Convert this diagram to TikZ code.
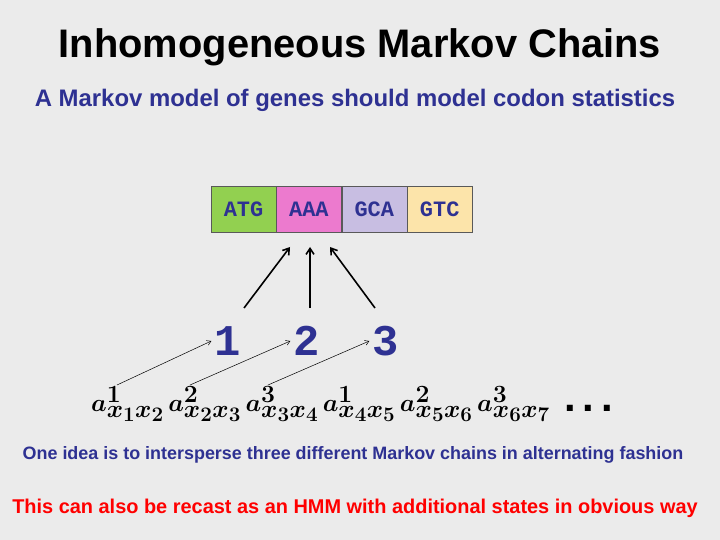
\documentclass[tikz,border=0pt]{standalone}
\usepackage{amsmath,bm}
\usepackage{fontspec}
\setmainfont{Liberation Sans}
\newfontfamily\mono{Liberation Mono}
\usetikzlibrary{arrows.meta}
\definecolor{navy}{RGB}{46,49,146}
\definecolor{bg}{RGB}{235,235,235}
\tikzset{codon/.style={draw=gray!70!black,minimum width=65bp,minimum height=46bp,inner sep=0,font=\mono\bfseries\fontsize{22}{22}\selectfont,text=navy},
num/.style={font=\mono\bfseries\fontsize{44}{44}\selectfont,text=navy},
big/.style={-{Straight Barb[length=6pt,width=8pt]},line width=1.6pt},
thin/.style={-{Straight Barb[length=4pt,width=5pt]},line width=0.5pt}}
\begin{document}
\begin{tikzpicture}[x=1bp,y=-1bp]
\fill[bg] (0,0) rectangle (720,540);
\node (title) at (360,47) {\bfseries\fontsize{40}{40}\selectfont Inhomogeneous Markov Chains};
\node[text=navy] (sub) at (355,100) {\bfseries\fontsize{24}{24}\selectfont A Markov model of genes should model codon statistics};
\node[codon,fill={rgb,255:red,146;green,208;blue,80}] (c1) at (243.5,209) {ATG};
\node[codon,fill={rgb,255:red,236;green,122;blue,206},anchor=west] (c2) at (c1.east) {AAA};
\node[codon,fill={rgb,255:red,200;green,190;blue,226},anchor=west] (c3) at (c2.east) {GCA};
\node[codon,fill={rgb,255:red,252;green,228;blue,170},anchor=west] (c4) at (c3.east) {GTC};
\node[num] (n1) at (228,341) {1};
\node[num] (n2) at (307,341) {2};
\node[num] (n3) at (386,341) {3};
\coordinate (s1) at (244,308); \coordinate (e1) at (290,247);
\coordinate (s2) at (310,308); \coordinate (e2) at (310,247);
\coordinate (s3) at (375,308); \coordinate (e3) at (330,247);
\draw[big] (s1) -- (e1);
\draw[big] (s2) -- (e2);
\draw[big] (s3) -- (e3);
\node (row) at (352,404) {\fontsize{42}{42}\selectfont$\bm{a^1_{x_1x_2}\,a^2_{x_2x_3}\,a^3_{x_3x_4}\,a^1_{x_4x_5}\,a^2_{x_5x_6}\,a^3_{x_6x_7}}\;\;\textbf{.\,.\,.}$};
\coordinate (t1) at (117,385); \coordinate (t2) at (190,385); \coordinate (t3) at (268,385);
\draw[thin] (t1) -- (n1.west);
\draw[thin] (t2) -- (n2.west);
\draw[thin] (t3) -- (n3.west);
\node[text=navy] (idea) at (353,455) {\bfseries\fontsize{18}{18}\selectfont One idea is to intersperse three different Markov chains in alternating fashion};
\node[text=red] (hmm) at (355,508) {\bfseries\fontsize{20}{20}\selectfont This can also be recast as an HMM with additional states in obvious way};
\end{tikzpicture}
\end{document}
